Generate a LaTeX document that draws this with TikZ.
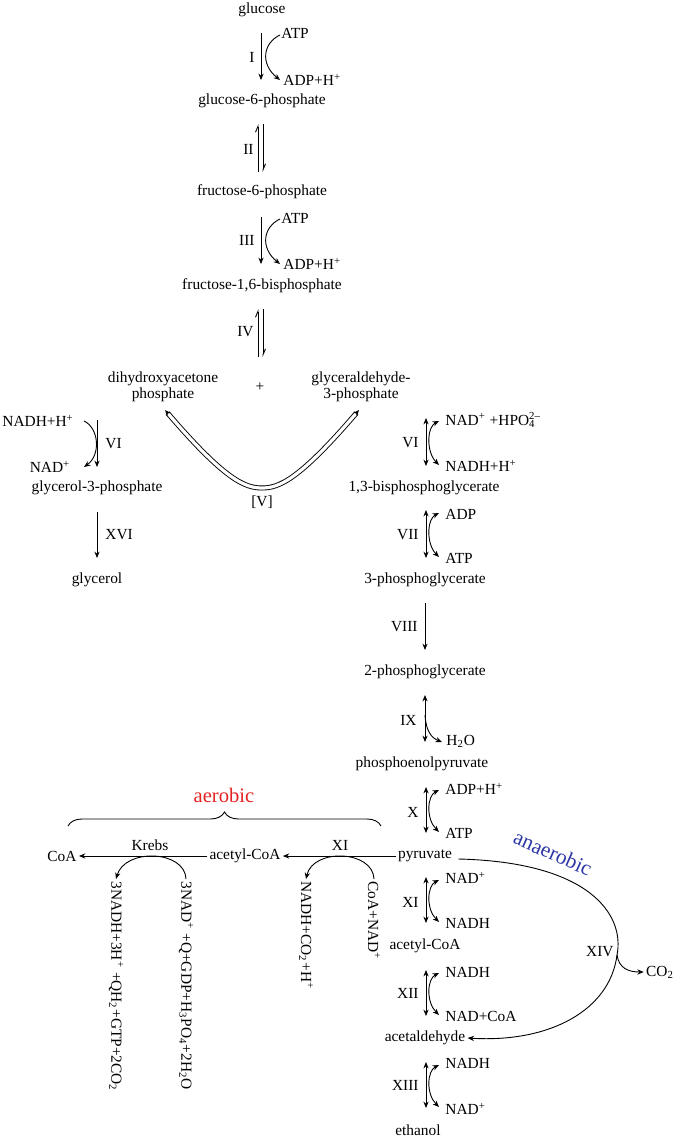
\documentclass[tikz,border=0pt]{standalone}
\usepackage{fontspec}
\setmainfont{Liberation Serif}
\usetikzlibrary{arrows.meta,decorations.pathreplacing}
\definecolor{aerored}{RGB}{230,35,35}
\definecolor{anablue}{RGB}{45,55,165}
\newcommand\up[1]{\textsuperscript{#1}}
\newcommand\dn[1]{\textsubscript{#1}}
\begin{document}
\begin{tikzpicture}[x=0.5pt,y=-0.5pt,
  every node/.style={font=\fontsize{7.7}{9}\selectfont, inner sep=1pt},
  arr/.style={-{Stealth[length=3.2pt,width=2.6pt]}, line width=0.45pt},
  barr/.style={{Stealth[length=3.2pt,width=2.6pt]}-{Stealth[length=3.2pt,width=2.6pt]}, line width=0.45pt},
  hup/.style={-{Straight Barb[left,length=3pt,width=2.5pt]}, line width=0.45pt},
  lbl/.style={anchor=east},
  prod/.style={anchor=west}]
\useasboundingbox (0,0) rectangle (685,1139);
% --- macros
\newcommand\irrx[4]{% x, ytop, ybot, name
  \coordinate (#4a) at (#1,#2); \coordinate (#4b) at (#1,#3);
  \draw[arr] (#4a) -- (#4b);}
\newcommand\revrx[4]{% x, ytop, ybot, name
  \coordinate (#4a) at (#1,#2); \coordinate (#4b) at (#1,#3);
  \coordinate (#4c) at (#1+13,#2+3); \coordinate (#4d) at (#1+13,#3-1);
  \draw[barr] (#4a) -- (#4b);
  \draw[barr] (#4c) .. controls (#1+1,#2+9) and (#1,#3-14) .. (#4d);}
\newcommand\sidein[4]{% x, ytop, ybot, name : curved side arrow (left column)
  \coordinate (#4c) at (#1+19,#2+2); \coordinate (#4d) at (#1+19,#3);
  \draw[arr] (#4c) .. controls (#1+2,#2+10) and (#1-1,#3-16) .. (#4d);}
% --- top column
\node (glc) at (262,10) {glucose};
\irrx{261}{33}{80}{rI}\sidein{261}{33}{80}{rI}
\node[prod] (atp1) at (279,33) {ATP};
\node[prod] (adp1) at (281,80) {ADP+H\up{+}};
\node[lbl] (lI) at (257,57) {I};
\node (g6p) at (262,101) {glucose-6-phosphate};
\coordinate (IIa) at (258,172); \coordinate (IIb) at (258,124);
\coordinate (IIc) at (263,124); \coordinate (IId) at (263,172);
\draw[hup] (IIa) -- (IIb); \draw[hup] (IIc) -- (IId);
\node[lbl] (lII) at (256,149) {II};
\node (f6p) at (262,192) {fructose-6-phosphate};
\irrx{261}{217}{264}{rIII}\sidein{261}{217}{264}{rIII}
\node[prod] (atp3) at (279,218) {ATP};
\node[prod] (adp3) at (281,264) {ADP+H\up{+}};
\node[lbl] (lIII) at (257,240) {III};
\node (fbp) at (262,286) {fructose-1,6-bisphosphate};
\coordinate (IVa) at (258,357); \coordinate (IVb) at (258,309);
\coordinate (IVc) at (263,309); \coordinate (IVd) at (263,357);
\draw[hup] (IVa) -- (IVb); \draw[hup] (IVc) -- (IVd);
\node[lbl] (lIV) at (256,332) {IV};
% --- split
\node[align=center] (dhap) at (163,387) {dihydroxyacetone\\[-1pt]phosphate};
\node (plus) at (260,387) {+};
\node[align=center] (gap) at (361,387) {glyceraldehyde-\\[-1pt]3-phosphate};
\coordinate (Vl) at (165,410); \coordinate (Vr) at (359,410);
\draw[barr, double, double distance=1.6pt] (Vl) .. controls (225,480) and (245,488) .. (262,488) .. controls (279,488) and (299,480) .. (Vr);
\node (lV) at (262,502) {[V]};
% --- left branch
\node[anchor=west] (nadh6) at (0,421) {NADH+H\up{+}};
\irrx{97}{420}{467}{rVIl}
\coordinate (VIlc) at (84,421); \coordinate (VIld) at (84,467);
\draw[arr] (VIlc) .. controls (99,428) and (101,455) .. (VIld);
\node (nad6) at (50,467) {NAD\up{+}};
\node[prod] (lVIl) at (103,444) {VI};
\node (g3p) at (97,488) {glycerol-3-phosphate};
\irrx{97}{512}{558}{rXVI}
\node[prod] (lXVI) at (103,535) {XVI};
\node (glyc) at (97,580) {glycerol};
% --- right column
\revrx{426}{418}{466}{rVI}
\node[prod] (nadp) at (443,420) {NAD\up{+} +HPO\rlap{\dn{4}}\up{2–}};
\node[prod] (nadh6r) at (443,466) {NADH+H\up{+}};
\node[lbl] (lVI) at (421,443) {VI};
\node (bpg) at (424,488) {1,3-bisphosphoglycerate};
\revrx{426}{510}{558}{rVII}
\node[prod] (adp7) at (443,514) {ADP};
\node[prod] (atp7) at (443,558) {ATP};
\node[lbl] (lVII) at (421,535) {VII};
\node (pg3) at (425,580) {3-phosphoglycerate};
\irrx{425}{603}{650}{rVIII}
\node[lbl] (lVIII) at (420,627) {VIII};
\node (pg2) at (425,672) {2-phosphoglycerate};
\coordinate (IXa) at (425,695); \coordinate (IXb) at (425,742); \coordinate (IXc) at (425,715); \coordinate (IXd) at (442,742);
\draw[barr] (IXa) -- (IXb);
\draw[arr] (IXc) .. controls (426,732) and (432,738) .. (IXd);
\node[lbl] (lIX) at (419,720) {IX};
\node[prod] (h2o) at (444,741) {H\dn{2}O};
\node (pep) at (422,764) {phosphoenolpyruvate};
\revrx{426}{787}{833}{rX}
\node[prod] (adp10) at (443,789) {ADP+H\up{+}};
\node[prod] (atp10) at (443,833) {ATP};
\node[lbl] (lX) at (421,812) {X};
\node (pyr) at (425,856) {pyruvate};
\revrx{426}{877}{923}{rXI}
\node[prod] (nad11) at (443,878) {NAD\up{+}};
\node[prod] (nadh11) at (443,923) {NADH};
\node[lbl] (lXI) at (421,902) {XI};
\node (acoa) at (425,946) {acetyl-CoA};
\revrx{426}{970}{1016}{rXII}
\node[prod] (nadh12) at (443,972) {NADH};
\node[prod] (nadcoa) at (443,1016) {NAD+CoA};
\node[lbl] (lXII) at (421,993) {XII};
\node (ald) at (425,1038) {acetaldehyde};
\revrx{426}{1062}{1108}{rXIII}
\node[prod] (nadh13) at (443,1063) {NADH};
\node[prod] (nad13) at (443,1109) {NAD\up{+}};
\node[lbl] (lXIII) at (421,1085) {XIII};
\node (eth) at (418,1130) {ethanol};
% --- anaerobic
\coordinate (XIVp) at (617,955);
\node (co2) at (660,972) {CO\dn{2}};
\draw[arr] (pyr.east) ++(4,3) .. controls (590,862) and (625,915) .. (XIVp) .. controls (610,1010) and (550,1043) .. (ald.east);
\draw[arr] (XIVp) .. controls (619,968) and (628,972) .. (co2.west);
\node[lbl] (lXIV) at (616,952) {XIV};
\node[text=anablue, font=\fontsize{10.7}{12}\selectfont, rotate=-24] (anaer) at (553,853) {anaerobic};
% --- aerobic
\node (coa) at (62,856) {CoA};
\node (acoa2) at (245,856) {acetyl-CoA};
\draw[arr] (acoa2.west) -- (coa.east);
\draw[arr] (pyr.west) -- (acoa2.east);
\node (krebs) at (150,845) {Krebs};
\node (lXIa) at (340,845) {XI};
\node[rotate=-90, anchor=west] (kin) at (186,879) {3NAD\up{+} +Q+GDP+H\dn{3}PO\dn{4}+2H\dn{2}O};
\node[rotate=-90, anchor=west] (kout) at (116,879) {3NADH+3H\up{+} +QH\dn{2}+GTP+2CO\dn{2}};
\node[rotate=-90, anchor=west] (pin) at (374,879) {CoA+NAD\up{+}};
\node[rotate=-90, anchor=west] (pout) at (306,879) {NADH+CO\dn{2}+H\up{+}};
\draw[arr] (kin.west) .. controls (185,850) and (125,848) .. (kout.west);
\draw[arr] (pin.west) .. controls (373,850) and (313,848) .. (pout.west);
\coordinate (brl) at (68,826); \coordinate (brr) at (381,826);
\draw[decorate, decoration={brace, amplitude=7pt}, line width=0.45pt] (brl) -- (brr);
\node[text=aerored, font=\fontsize{10.3}{12}\selectfont] (aer) at (224,795) {aerobic};
\end{tikzpicture}
\end{document}
